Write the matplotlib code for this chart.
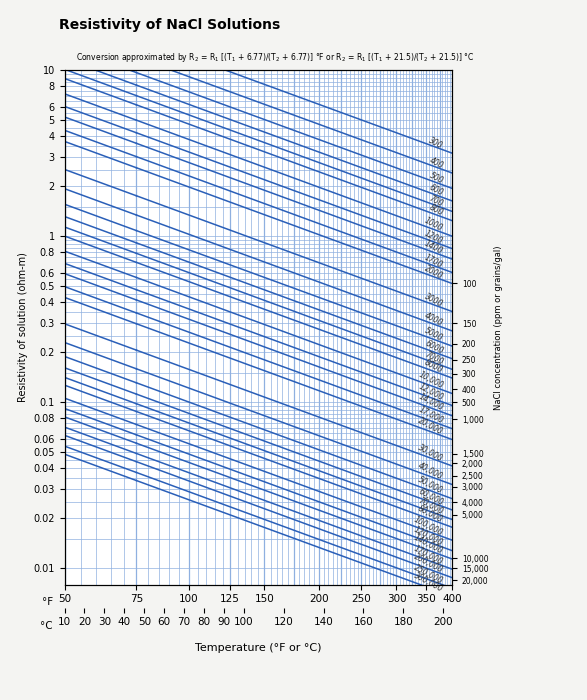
import numpy as np
import matplotlib
matplotlib.use('Agg')
import matplotlib.pyplot as plt

# NaCl concentration (ppm) and resistivity at 75 F (ohm-m)
conc_ppm = [300, 400, 500, 600, 700, 800, 1000, 1200, 1400, 1700, 2000, 3000, 4000,
            5000, 6000, 7000, 8000, 10000, 12000, 14000, 17000, 20000, 30000, 40000,
            50000, 60000, 70000, 80000, 100000, 120000, 140000, 170000, 200000,
            250000, 300000]
res_75 = [15.7, 11.9, 9.65, 8.11, 7.01, 6.17, 4.99, 4.19, 3.62, 3.01, 2.58, 1.75, 1.34,
          1.08, 0.911, 0.788, 0.695, 0.564, 0.476, 0.413, 0.345, 0.297, 0.206, 0.159,
          0.131, 0.112, 0.098, 0.088, 0.0735, 0.0637, 0.0567, 0.0492, 0.0439,
          0.0378, 0.0338]
# resistivity at 400 F, same lines
res_400 = [3.16, 2.40, 1.94, 1.63, 1.41, 1.24, 1.00, 0.842, 0.728, 0.605, 0.519, 0.352,
           0.269, 0.218, 0.183, 0.158, 0.140, 0.113, 0.0957, 0.0830, 0.0694, 0.0597,
           0.0414, 0.0320, 0.0263, 0.0225, 0.0197, 0.0177, 0.0148, 0.0128, 0.0114,
           0.0099, 0.0088, 0.0076, 0.0068]
label_txt = ['300', '400', '500', '600', '700', '800', '1000', '1200', '1400', '1700',
             '2000', '3000', '4000', '5000', '6000', '7000', '8000', '10,000', '12,000',
             '14,000', '17,000', '20,000', '30,000', '40,000', '50,000', '60,000',
             '70,000', '80,000', '100,000', '120,000', '140,000', '170,000', '200,000',
             '250,000', '300,000']
f_ticks = [50, 75, 100, 125, 150, 200, 250, 300, 350, 400]
c_ticks = [10, 20, 30, 40, 50, 60, 70, 80, 90, 100, 120, 140, 160, 180, 200]
y_ticks = [10, 8, 6, 5, 4, 3, 2, 1, 0.8, 0.6, 0.5, 0.4, 0.3, 0.2, 0.1, 0.08, 0.06,
           0.05, 0.04, 0.03, 0.02, 0.01]
# right-hand scale labels and the resistivity they sit at
grains = [100, 150, 200, 250, 300, 400, 500, 1000, 1500, 2000, 2500, 3000, 4000,
          5000, 10000, 15000, 20000]
grains_at = [0.52, 0.30, 0.225, 0.18, 0.148, 0.12, 0.10, 0.079, 0.049, 0.043, 0.036,
             0.031, 0.025, 0.021, 0.0115, 0.0100, 0.0085]

fwd = lambda t: np.log(np.clip(t, 1e-3, None) + 6.77)
inv = lambda u: np.exp(u) - 6.77

blue = '#2a5fb8'
grid_c = '#8fb0e0'

fig = plt.figure(figsize=(5.87, 7.0), dpi=100)
fig.patch.set_facecolor('#f4f4f2')
ax = fig.add_axes([0.11, 0.165, 0.66, 0.735])
ax.set_facecolor('white')
ax.set_xscale('function', functions=(fwd, inv))
ax.set_yscale('log')
ax.set_xlim(50, 400)
ax.set_ylim(0.008, 10)

for t in range(50, 401, 5):
    ax.axvline(t, color=grid_c, lw=0.5 if t % 25 else 0.9, zorder=0)
for d in [0.001, 0.01, 0.1, 1]:
    for m in np.arange(1, 10, 0.5):
        ax.axhline(d * m * 10, color=grid_c, lw=0.5, zorder=0)

for c, r1, r2, lab in zip(conc_ppm, res_75, res_400, label_txt):
    ax.plot([75, 400], [r1, r2], color=blue, lw=1.1)
    ax.plot([50, 75], [r1 * 81.77 / 56.77, r1], color=blue, lw=1.1)
    if r2 < 9:
        ax.text(385, r2 * 1.04, lab, fontsize=5.5, style='italic', color='#333',
                ha='right', va='bottom', rotation=-28)

ax.set_yticks(y_ticks)
ax.set_yticklabels([('%g' % v) for v in y_ticks], fontsize=7)
ax.set_yticks([], minor=True)
ax.set_xticks(f_ticks)
ax.set_xticklabels([str(v) for v in f_ticks], fontsize=7.5)
ax.set_ylabel('Resistivity of solution (ohm-m)', fontsize=7)

secx = ax.secondary_xaxis(-0.045, functions=(lambda f: (f - 32) * 5 / 9, lambda c: c * 9 / 5 + 32))
secx.set_xticks(c_ticks)
secx.set_xticklabels([str(v) for v in c_ticks], fontsize=7.5)
secx.spines['bottom'].set_visible(False)
ax.text(-0.03, -0.025, '°F', transform=ax.transAxes, ha='right', va='top', fontsize=7.5)
ax.text(-0.03, -0.07, '°C', transform=ax.transAxes, ha='right', va='top', fontsize=7.5)
ax.text(0.5, -0.13, 'Temperature (°F or °C)', transform=ax.transAxes, ha='center', fontsize=8)

rax = ax.twinx()
rax.set_yscale('log')
rax.set_ylim(ax.get_ylim())
rax.set_yticks(grains_at)
rax.set_yticklabels([f'{g:,}' for g in grains], fontsize=5.5)
rax.set_yticks([], minor=True)
rax.set_ylabel('NaCl concentration (ppm or grains/gal)', fontsize=6)

fig.text(0.1, 0.975, 'Resistivity of NaCl Solutions', fontsize=10, weight='bold', va='top')
fig.text(0.13, 0.915,
         'Conversion approximated by R$_2$ = R$_1$ [(T$_1$ + 6.77)/(T$_2$ + 6.77)] °F or '
         'R$_2$ = R$_1$ [(T$_1$ + 21.5)/(T$_2$ + 21.5)] °C', fontsize=5.5)

fig.savefig('out.png', dpi=100)
